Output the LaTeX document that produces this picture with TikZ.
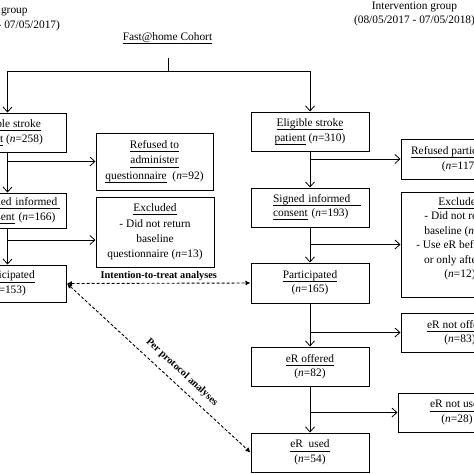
\documentclass[tikz,border=0pt]{standalone}
\usepackage{fontspec}
\setmainfont{Liberation Serif}
\usetikzlibrary{arrows.meta}
\newsavebox\ulbox
\newcommand\myul[1]{\sbox\ulbox{#1}\usebox\ulbox\llap{\rule[-3.2pt]{\wd\ulbox}{0.5pt}}}
\newcommand\jul[2]{\makebox[#1][s]{#2}\llap{\rule[-3.2pt]{#1}{0.5pt}}}
\begin{document}
\begin{tikzpicture}[x=1pt,y=-1pt,
  every node/.style={font=\fontsize{11.4}{14.5}\selectfont},
  box/.style={draw, line width=1pt, minimum width=118pt, inner sep=0pt, align=center},
  txt/.style={inner sep=0pt, align=center},
  conn/.style={line width=0.8pt},
  arr/.style={line width=0.8pt, -{Straight Barb[length=5pt,width=9pt]}},
  dasharr/.style={line width=0.9pt, dash pattern=on 3pt off 2pt,
     {Latex[length=5pt,width=5pt]}-{Latex[length=5pt,width=5pt]}},
  lbl/.style={font=\fontsize{10.3}{12}\selectfont\bfseries}
]
\useasboundingbox (0,0) rectangle (474,474);
\clip (0,0) rectangle (474,474);

% titles
\node[txt] (tl) at (-0.5,18.5) {Control group\hspace*{8pt}\\(08/05/2016 - 07/05/2017)};
\node[txt] (tr) at (414.5,14) {Intervention group\\(08/05/2017 - 07/05/2018)};
\node[txt] (fh) at (167.5,38) {\myul{Fast@home Cohort}};
\coordinate (fhb) at (168,58);
\coordinate (split) at (168,71);

% left column
\node[box, minimum height=39pt] (L1) at (7.5,132.5) {\myul{Eligible stroke}\\\myul{patient} (\textit{n}=258)};
\node[box, minimum height=35pt] (L2) at (7.5,210.5) {};
\node[inner sep=0pt, text width=80pt, align=left] (L2t) at (20,210.5) {\jul{80pt}{Signed informed}\\\myul{consent} (\textit{n}=166)};
\node[box, minimum height=37pt] (L3) at (7.5,283.5) {\myul{Participated}\\(\textit{n}=153)};

\node[box, minimum width=117pt, minimum height=57pt, font=\fontsize{11.4}{15.4}\selectfont] (LR1) at (154.5,161.5)
  {\myul{Refused to}\\\myul{administer}\\\myul{questionnaire}\ \ (\textit{n}=92)};
\node[box, minimum height=70pt, font=\fontsize{11.4}{15.4}\selectfont] (LR2) at (155,232)
  {\myul{Excluded}\\- Did not return\\baseline\\questionnaire (\textit{n}=13)};

% right column
\node[box, minimum height=39pt] (R1) at (310,131.5) {\myul{Eligible stroke}\\\myul{patient} (\textit{n}=310)};
\node[box, minimum height=39pt] (R2) at (310,207.5) {};
\node[inner sep=0pt, text width=88pt, align=left] (R2t) at (317,207) {\jul{88pt}{Signed informed}\\\myul{consent} (\textit{n}=193)};
\node[box, minimum height=40pt] (R3) at (310,283) {\myul{Participated}\\(\textit{n}=165)};
\node[box, minimum height=39pt] (R4) at (310,366.5) {\myul{eR offered}\\(\textit{n}=82)};
\node[box, minimum height=39pt] (R5) at (310,452.5) {\myul{eR\ \ used}\\(\textit{n}=54)};

\node[box, minimum height=40pt] (RR1) at (460,159) {\myul{Refused participation}\\(\textit{n}=117)};
\node[box, minimum height=105pt] (RR2) at (460,244.5) {};
\node[txt] (RR2t) at (460,239) {\myul{Excluded}\\- Did not return\\baseline (\textit{n}=16)\\- Use eR before T0\\or only after T1\\(\textit{n}=12)};
\node[box, minimum height=39pt] (RR3) at (460,332.5) {\myul{eR not offered}\\(\textit{n}=83)};
\node[box, minimum height=39pt] (RR4) at (457,412.5) {\myul{eR not used}\\(\textit{n}=28)};

% connectors
\draw[conn] (fhb) -- (split);
\draw[conn] (L1 |- split) -- (R1 |- split);
\draw[arr] (L1 |- split) -- (L1.north);
\draw[arr] (R1 |- split) -- (R1.north);

\draw[arr] (L1.south) -- (L2.north);
\draw[arr] (L1.south |- LR1.west) -- (LR1.west);
\draw[arr] (L2.south) -- (L3.north);
\coordinate (b2) at (7.5,240);
\draw[arr] (b2) -- (b2 -| LR2.west);

\draw[arr] (R1.south) -- (R2.north);
\draw[arr] (R1.south |- RR1.west) -- (RR1.west);
\draw[arr] (R2.south) -- (R3.north);
\draw[arr] (R2.south |- RR2.west) -- (RR2.west);
\draw[arr] (R3.south) -- (R4.north);
\draw[arr] (R3.south |- RR3.west) -- (RR3.west);
\draw[arr] (R4.south) -- (R5.north);
\draw[arr] (R4.south |- RR4.west) -- (RR4.west);

\draw[dasharr] (L3.east) -- node[lbl, above, inner sep=2pt] {Intention-to-treat analyses} (R3.west);
\draw[dasharr] (L3.east) -- node[lbl, pos=0.58, sloped, above=4pt] {Per protocol analyses} (R5.west);
\end{tikzpicture}
\end{document}
